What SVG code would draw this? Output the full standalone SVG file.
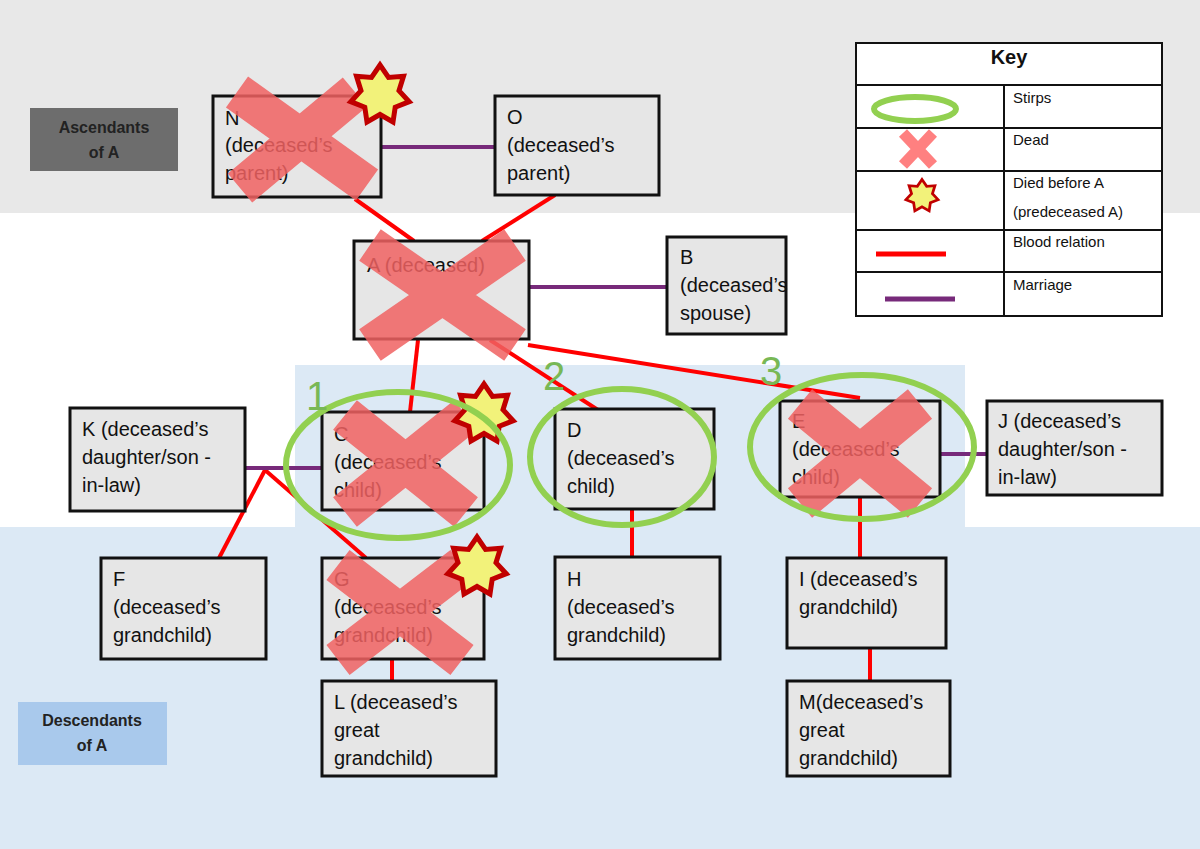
<svg xmlns="http://www.w3.org/2000/svg" xmlns:xlink="http://www.w3.org/1999/xlink" width="1200" height="849" viewBox="0 0 1200 849">
<style>
text{font-family:"Liberation Sans",Arial,sans-serif;font-size:20px;fill:#111}
.box{fill:#e6e6e6;stroke:#111;stroke-width:3}
.blood{stroke:#ff0000;stroke-width:4;fill:none}
.mar{stroke:#772a7a;stroke-width:4;fill:none}
.x{stroke:#f06262;stroke-opacity:0.85;stroke-width:38;fill:none}
.stirp{fill:none;stroke:#92d050;stroke-width:6}
.num{font-size:40px;fill:#78b855}
.key{font-size:15px}
.kl{stroke:#111;stroke-width:2;fill:none}
.star{fill:#f2f27a;stroke:#c00000;stroke-width:5}
</style>
<defs>
<polygon id="star" class="star" points="0,-30 8.5,-17.6 23.5,-18.7 19,-4.3 29.2,6.7 15.2,12.2 13,27 0,19.5 -13,27 -15.2,12.2 -29.2,6.7 -19,-4.3 -23.5,-18.7 -8.5,-17.6"/>
</defs>
<rect width="1200" height="849" fill="#ffffff"/>
<rect x="0" y="0" width="1200" height="213" fill="#e8e8e8"/>
<rect x="295" y="365" width="670" height="165" fill="#dce9f5"/>
<rect x="0" y="527" width="1200" height="322" fill="#dce9f5"/>
<g id="ascendants"><rect x="30" y="108" width="148" height="63" fill="#6d6d6d"/><text x="104" y="133" text-anchor="middle" style="font-size:16px;font-weight:bold;fill:#222">Ascendants</text><text x="104" y="158" text-anchor="middle" style="font-size:16px;font-weight:bold;fill:#222">of A</text></g>
<g id="descendants"><rect x="18" y="702" width="149" height="63" fill="#a9c9ec"/><text x="92" y="726" text-anchor="middle" style="font-size:16px;font-weight:bold;fill:#222">Descendants</text><text x="92" y="751" text-anchor="middle" style="font-size:16px;font-weight:bold;fill:#222">of A</text></g>
<g id="connectors">
<line class="blood" x1="355" y1="199" x2="414" y2="241"/>
<line class="blood" x1="555" y1="195" x2="482" y2="241"/>
<line class="blood" x1="418" y1="340" x2="410" y2="412"/>
<line class="blood" x1="490" y1="340" x2="598" y2="410"/>
<line class="blood" x1="528" y1="345" x2="860" y2="398"/>
<line class="blood" x1="265" y1="470" x2="218" y2="560"/>
<line class="blood" x1="265" y1="470" x2="366" y2="558"/>
<line class="blood" x1="632" y1="509" x2="632" y2="557"/>
<line class="blood" x1="860" y1="497" x2="860" y2="558"/>
<line class="blood" x1="392" y1="659" x2="392" y2="681"/>
<line class="blood" x1="870" y1="648" x2="870" y2="681"/>
<line class="mar" x1="381" y1="147" x2="495" y2="147"/>
<line class="mar" x1="529" y1="287" x2="667" y2="287"/>
<line class="mar" x1="245" y1="468" x2="322" y2="468"/>
<line class="mar" x1="940" y1="454" x2="987" y2="454"/>
</g>
<g id="N"><rect class="box" x="213" y="96" width="168" height="101"/><text x="225" y="125">N</text><text x="225" y="152">(deceased’s</text><text x="225" y="180">parent)</text><path class="x" d="M237,92 L367,185 M355,92 L240,188"/><use xlink:href="#star" x="380" y="95"/></g>
<g id="O"><rect class="box" x="495" y="96" width="164" height="99"/><text x="507" y="152" dy="-28">O</text><text x="507" y="152">(deceased’s</text><text x="507" y="180">parent)</text></g>
<g id="A"><rect class="box" x="354" y="241" width="175" height="98"/><text x="367" y="272">A (deceased)</text><path class="x" d="M370,245 L515,345 M515,245 L370,345"/></g>
<g id="B"><rect class="box" x="667" y="237" width="119" height="97"/><text x="680" y="264">B</text><text x="680" y="292">(deceased’s</text><text x="680" y="320">spouse)</text></g>
<g id="K"><rect class="box" x="70" y="408" width="175" height="103"/><text x="82" y="436">K (deceased’s</text><text x="82" y="464">daughter/son -</text><text x="82" y="492">in-law)</text></g>
<g id="C"><rect class="box" x="322" y="412" width="162" height="98"/><text x="334" y="441">C</text><text x="334" y="469">(deceased’s</text><text x="334" y="497">child)</text><path class="x" d="M345,415 L466,512 M466,415 L345,512"/><use xlink:href="#star" x="484" y="414"/><ellipse class="stirp" cx="398" cy="465" rx="112" ry="73"/><text class="num" x="306" y="410">1</text></g>
<g id="D"><rect class="box" x="555" y="409" width="159" height="100"/><text x="567" y="437">D</text><text x="567" y="465">(deceased’s</text><text x="567" y="493">child)</text><ellipse class="stirp" cx="622" cy="457" rx="92" ry="68"/><text class="num" x="543" y="390">2</text></g>
<g id="E"><rect class="box" x="780" y="401" width="160" height="96"/><text x="792" y="428">E</text><text x="792" y="456">(deceased’s</text><text x="792" y="484">child)</text><path class="x" d="M800,404 L920,503 M920,404 L800,503"/><ellipse class="stirp" cx="862" cy="447" rx="112" ry="72"/><text class="num" x="760" y="385">3</text></g>
<g id="J"><rect class="box" x="987" y="401" width="175" height="94"/><text x="998" y="428">J (deceased’s</text><text x="998" y="456">daughter/son -</text><text x="998" y="484">in-law)</text></g>
<g id="F"><rect class="box" x="101" y="558" width="165" height="101"/><text x="113" y="586">F</text><text x="113" y="614">(deceased’s</text><text x="113" y="642">grandchild)</text></g>
<g id="G"><rect class="box" x="322" y="558" width="162" height="101"/><text x="334" y="586">G</text><text x="334" y="614">(deceased’s</text><text x="334" y="642">grandchild)</text><path class="x" d="M338,565 L462,660 M462,565 L338,660"/><use xlink:href="#star" x="477" y="567"/></g>
<g id="H"><rect class="box" x="555" y="557" width="165" height="102"/><text x="567" y="586">H</text><text x="567" y="614">(deceased’s</text><text x="567" y="642">grandchild)</text></g>
<g id="I"><rect class="box" x="787" y="558" width="159" height="90"/><text x="799" y="586">I (deceased’s</text><text x="799" y="614">grandchild)</text></g>
<g id="L"><rect class="box" x="322" y="681" width="174" height="95"/><text x="334" y="709">L (deceased’s</text><text x="334" y="737">great</text><text x="334" y="765">grandchild)</text></g>
<g id="M"><rect class="box" x="787" y="681" width="163" height="95"/><text x="799" y="709">M(deceased’s</text><text x="799" y="737">great</text><text x="799" y="765">grandchild)</text></g>
<g id="key">
<rect x="856" y="43" width="306" height="273" fill="#ffffff" stroke="#111" stroke-width="2"/>
<path class="kl" d="M856,85 H1162 M856,128 H1162 M856,171 H1162 M856,230 H1162 M856,272 H1162 M1004,85 V316"/>
<text x="1009" y="64" text-anchor="middle" style="font-weight:bold">Key</text>
<ellipse class="stirp" cx="915" cy="109" rx="41" ry="12"/>
<path d="M903,133 L933,165 M933,133 L903,165" stroke="#ff8080" stroke-width="11" fill="none"/>
<use xlink:href="#star" transform="translate(922,196) scale(0.55)"/>
<line x1="876" y1="254" x2="946" y2="254" stroke="#ff0000" stroke-width="5"/>
<line x1="885" y1="299" x2="955" y2="299" stroke="#772a7a" stroke-width="5"/>
<text class="key" x="1013" y="103">Stirps</text>
<text class="key" x="1013" y="145">Dead</text>
<text class="key" x="1013" y="188">Died before A</text>
<text class="key" x="1013" y="217">(predeceased A)</text>
<text class="key" x="1013" y="247">Blood relation</text>
<text class="key" x="1013" y="290">Marriage</text>
</g>
</svg>
